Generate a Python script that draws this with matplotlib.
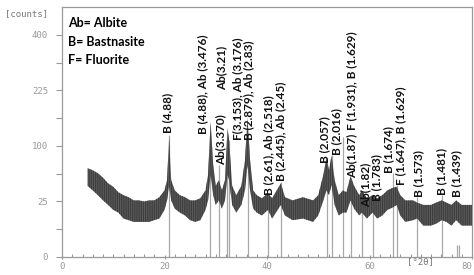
import numpy as np
import matplotlib
matplotlib.use('Agg')
import matplotlib.pyplot as plt

plt.rcParams['font.family'] = ['Lato', 'DejaVu Sans']
plt.rcParams['hatch.linewidth'] = 0.5

# noisy scan, read as a band: 2theta (deg), upper and lower edge (counts)
two_theta = [5.0, 6.0, 7.0, 8.0, 9.0, 10.0, 11.0, 12.0, 13.0, 14.0, 15.0, 16.0,
             17.0, 18.0, 19.0, 20.0, 20.5, 20.9, 21.3, 22.0, 23.0, 24.0, 25.0,
             26.0, 27.0, 28.0, 28.5, 29.0, 29.5, 30.0, 30.6, 31.2, 31.8, 32.3,
             32.6, 33.2, 34.0, 35.0, 35.7, 36.2, 36.7, 37.3, 38.0, 39.0, 40.2,
             41.0, 42.7, 43.5, 45.0, 47.0, 49.0, 50.0, 51.0, 51.6, 52.1, 52.6,
             53.2, 54.0, 54.8, 55.5, 56.3, 57.0, 58.0, 58.5, 59.5, 60.6, 61.5,
             62.5, 63.5, 64.6, 65.3, 66.0, 67.0, 68.5, 69.3, 70.5, 72.0, 73.0,
             74.1, 75.0, 76.0, 76.9, 78.0, 79.0, 80.0]
cnt_hi = [64, 61, 57, 51, 44, 40, 34, 31, 29, 26, 26, 25,
          26, 26, 29, 36, 48, 115, 48, 36, 31, 29, 26,
          26, 28, 36, 55, 148, 69, 41, 48, 36, 48, 135,
          111, 41, 31, 41, 76, 157, 76, 36, 31, 28, 33,
          28, 44, 29, 26, 29, 26, 31, 55, 80, 61, 84,
          48, 31, 36, 34, 53, 41, 31, 36, 28, 31, 28,
          31, 36, 39, 40, 31, 26, 26, 24, 22, 22, 24,
          26, 24, 22, 26, 22, 22, 22]
cnt_lo = [41, 36, 31, 26, 22, 18, 16, 12, 11, 10, 10, 10,
          10, 11, 12, 18, 26, 41, 26, 19, 16, 14, 11,
          10, 11, 18, 26, 55, 31, 22, 26, 19, 26, 55,
          48, 22, 16, 22, 36, 69, 36, 19, 16, 14, 18,
          12, 22, 14, 11, 12, 10, 14, 26, 36, 31, 42,
          22, 14, 16, 16, 26, 19, 14, 16, 12, 16, 12,
          14, 18, 20, 22, 14, 10, 11, 12, 8, 8, 9,
          11, 10, 8, 11, 8, 8, 8]

# reference lines: position (deg) and top (counts)
line_pos = [20.94, 28.94, 30.63, 32.14, 32.53, 36.23, 40.25, 42.67, 51.65,
            52.62, 54.77, 56.33, 58.48, 60.62, 64.64, 65.3, 69.33, 74.09,
            77.0, 77.5]
line_top = [121, 119, 69, 111, 111, 111, 31, 46, 72,
            84, 117, 51, 20, 25, 57, 42, 29, 31,
            1.2, 1.2]

labels = ['B (4.88)', 'B (4.88), Ab (3.476)', 'Ab(3.370)', 'Ab(3.21)',
          'F(3.153), Ab (3.176)', 'B (2.879), Ab (2.83)', 'B (2.61), Ab (2.518)',
          'B (2.445), Ab (2.45)', 'B (2.057)', 'B (2.016)', 'Ab(1.87)',
          'F (1.931), B (1.629)', 'Ab(1.82)', 'B (1.783)', 'B (1.674)',
          'F (1.647), B (1.629)', 'B (1.573)', 'B (1.481)', 'B (1.439)']
label_x = [20.7, 27.5, 31.0, 31.2, 34.2, 36.5, 40.4, 42.7, 51.3, 53.5, 56.6,
           56.6, 59.2, 61.5, 63.8, 66.1, 69.5, 74.0, 77.1]
label_y = [125, 123, 69, 226, 111, 111, 31, 47, 72, 84, 51,
           131, 20, 25, 57, 42, 29, 31, 29]

fig = plt.figure(figsize=(4.74, 2.75), dpi=100)
ax = fig.add_axes([62 / 474, 18 / 275, 410 / 474, 250 / 275])

ax.set_yscale('function', functions=(lambda v: np.sqrt(np.maximum(v, 0)), np.square))
ax.set_xlim(0, 80)
ax.set_ylim(0, 507)

ax.vlines(line_pos, 0, line_top, color='#a8a8a8', lw=0.9, zorder=1)
ax.fill_between(two_theta, cnt_lo, cnt_hi, facecolor='#5a5a5a', hatch='|||||||||',
                edgecolor='#333333', lw=0, zorder=2)

for t, x, y in zip(labels, label_x, label_y):
    ax.text(x, y, t, rotation=90, ha='center', va='bottom', fontsize=8.5,
            fontweight='bold', color='#111111', zorder=3)

ax.text(0.015, 0.935, 'Ab= Albite', transform=ax.transAxes, fontsize=9,
        fontweight='bold', va='center')
ax.text(0.015, 0.86, 'B= Bastnasite', transform=ax.transAxes, fontsize=9,
        fontweight='bold', va='center')
ax.text(0.015, 0.788, 'F= Fluorite', transform=ax.transAxes, fontsize=9,
        fontweight='bold', va='center')

mono = dict(family='DejaVu Sans Mono', color='#777777', fontsize=6.5)
ax.set_yticks([0, 25, 100, 225, 400])
ax.set_yticklabels(['0', '25', '100', '225', '400'], **mono)
ax.set_yticks([6.25, 56.25, 156.25, 306.25], minor=True)
ax.set_xticks([0, 20, 40, 60, 80])
xl = ax.set_xticklabels(['0', '20', '40', '60', '80'], **mono)
xl[-1].set_ha('right')
ax.set_xticks(np.arange(0, 81, 2), minor=True)
ax.tick_params(axis='both', which='both', colors='#999999', width=0.8)
ax.tick_params(axis='y', which='both', length=4, pad=6)
ax.tick_params(axis='x', which='major', length=3, direction='inout', pad=2)
ax.tick_params(axis='x', which='minor', length=2, direction='in')
for s in ax.spines.values():
    s.set_color('#999999')
    s.set_linewidth(0.9)

ax.text(70, -30, '[°2θ]', ha='center', va='top', **mono)
fig.text(5 / 474, 1 - 14 / 275, '[counts]', ha='left', va='center', **mono)

fig.savefig('out.png', dpi=100)
